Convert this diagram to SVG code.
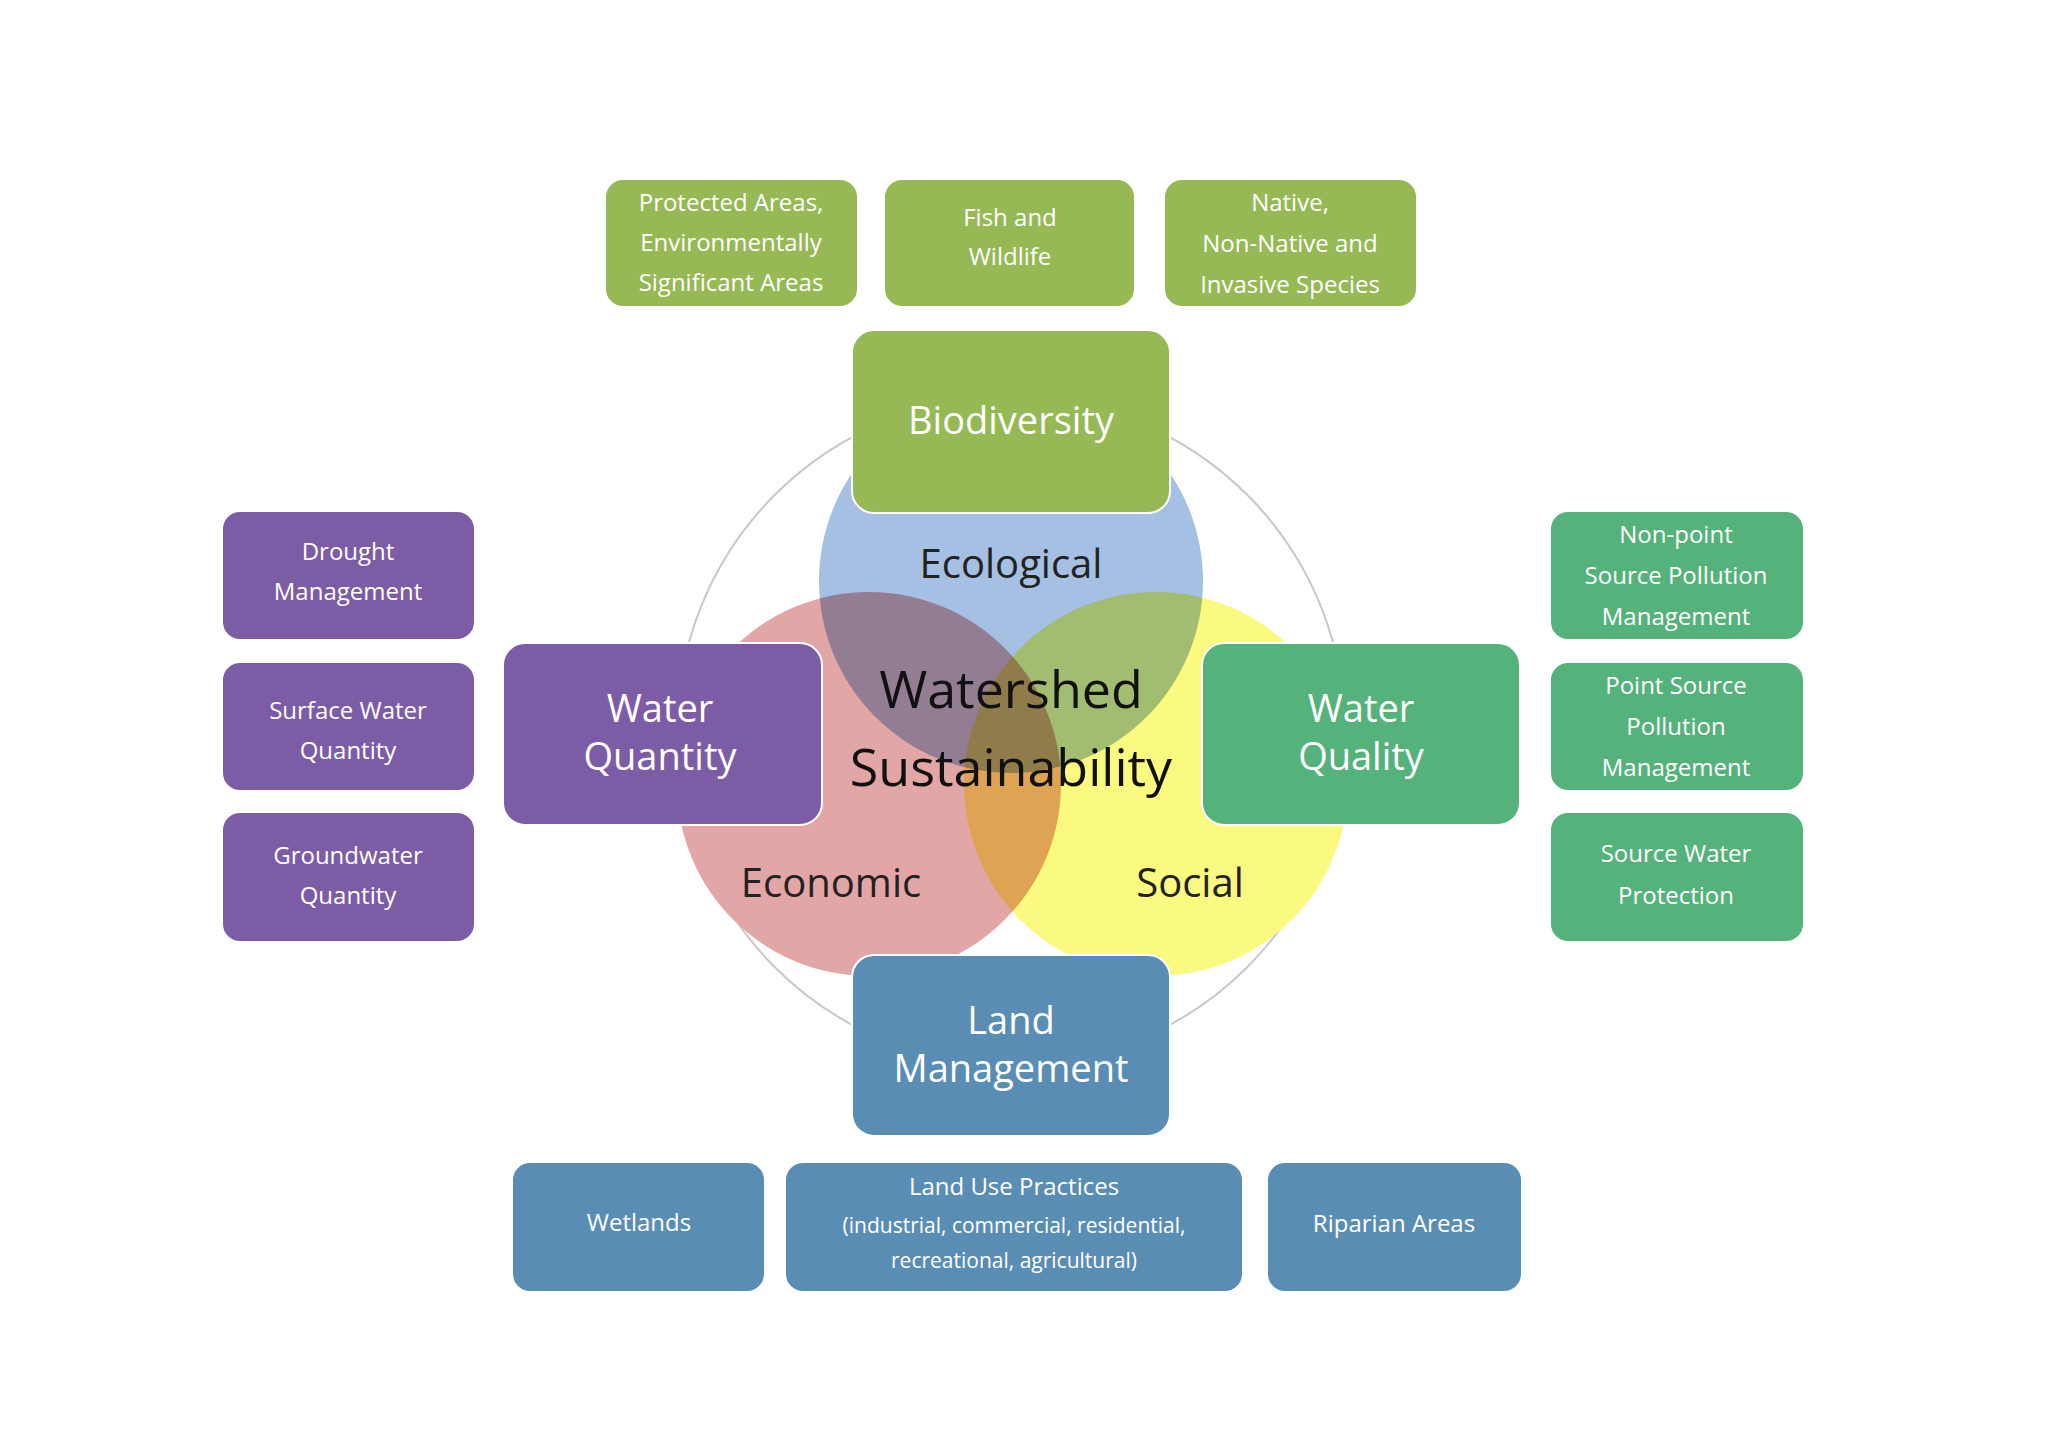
<svg xmlns="http://www.w3.org/2000/svg" width="2048" height="1448" viewBox="0 0 2048 1448">
<style>
text{font-family:"Open Sans","Liberation Sans",sans-serif;text-anchor:middle}
.s{fill:#fff;font-size:24px}
.b{fill:#fff;font-size:38px}
.c{fill:#222;font-size:40px}
.g{fill:#97b955}.p{fill:#7c5ca5}.q{fill:#55b27b}.l{fill:#5a8db4}
rect{stroke:#fff;stroke-width:2}
</style>
<rect width="2048" height="1448" fill="#fff"/>
<g id="venn">
<circle cx="1011" cy="731" r="334" fill="none" stroke="#c8c8c8" stroke-width="2"/>
<g style="isolation:isolate">
<circle cx="1011" cy="581" r="192" fill="#a5c0e2"/>
<circle cx="869" cy="784" r="192" fill="#e3a6a6" style="mix-blend-mode:multiply"/>
<circle cx="1156" cy="784" r="192" fill="#fafa80" style="mix-blend-mode:multiply"/>
</g>
<text class="c" x="1011" y="578">Ecological</text>
<text class="c" x="831" y="897">Economic</text>
<text class="c" x="1190" y="897">Social</text>
<text x="1011" y="708" style="font-size:52px;fill:#111">Watershed</text>
<text x="1011" y="786" style="font-size:52px;fill:#111">Sustainability</text>
</g>
<g id="connectors"></g>
<g id="biodiversity"><rect class="g" x="852" y="330" width="318" height="183" rx="22"/><text class="b" x="1011" y="434">Biodiversity</text></g>
<g id="protected"><rect class="g" x="605" y="179" width="253" height="128" rx="18"/><text class="s" x="731" y="211">Protected Areas,</text><text class="s" x="731" y="251">Environmentally</text><text class="s" x="731" y="291">Significant Areas</text></g>
<g id="fish"><rect class="g" x="884" y="179" width="251" height="128" rx="18"/><text class="s" x="1010" y="226">Fish and</text><text class="s" x="1010" y="265">Wildlife</text></g>
<g id="native"><rect class="g" x="1164" y="179" width="253" height="128" rx="18"/><text class="s" x="1290" y="211">Native,</text><text class="s" x="1290" y="252">Non-Native and</text><text class="s" x="1290" y="293">Invasive Species</text></g>
<g id="waterquantity"><rect class="p" x="503" y="643" width="319" height="182" rx="22"/><text class="b" x="660" y="722">Water</text><text class="b" x="660" y="770">Quantity</text></g>
<g id="drought"><rect class="p" x="222" y="511" width="253" height="129" rx="18"/><text class="s" x="348" y="560">Drought</text><text class="s" x="348" y="600">Management</text></g>
<g id="surface"><rect class="p" x="222" y="662" width="253" height="129" rx="18"/><text class="s" x="348" y="719">Surface Water</text><text class="s" x="348" y="759">Quantity</text></g>
<g id="groundwater"><rect class="p" x="222" y="812" width="253" height="130" rx="18"/><text class="s" x="348" y="864">Groundwater</text><text class="s" x="348" y="904">Quantity</text></g>
<g id="waterquality"><rect class="q" x="1202" y="643" width="318" height="182" rx="22"/><text class="b" x="1361" y="722">Water</text><text class="b" x="1361" y="770">Quality</text></g>
<g id="nonpoint"><rect class="q" x="1550" y="511" width="254" height="129" rx="18"/><text class="s" x="1676" y="543">Non-point</text><text class="s" x="1676" y="584">Source Pollution</text><text class="s" x="1676" y="625">Management</text></g>
<g id="point"><rect class="q" x="1550" y="662" width="254" height="129" rx="18"/><text class="s" x="1676" y="694">Point Source</text><text class="s" x="1676" y="735">Pollution</text><text class="s" x="1676" y="776">Management</text></g>
<g id="sourcewater"><rect class="q" x="1550" y="812" width="254" height="130" rx="18"/><text class="s" x="1676" y="862">Source Water</text><text class="s" x="1676" y="904">Protection</text></g>
<g id="land"><rect class="l" x="852" y="955" width="318" height="181" rx="22"/><text class="b" x="1011" y="1034">Land</text><text class="b" x="1011" y="1082">Management</text></g>
<g id="wetlands"><rect class="l" x="512" y="1162" width="253" height="130" rx="18"/><text class="s" x="639" y="1231">Wetlands</text></g>
<g id="landuse"><rect class="l" x="785" y="1162" width="458" height="130" rx="18"/><text class="s" x="1014" y="1195">Land Use Practices</text><text class="s" x="1014" y="1233" style="font-size:21px">(industrial, commercial, residential,</text><text class="s" x="1014" y="1268" style="font-size:21px">recreational, agricultural)</text></g>
<g id="riparian"><rect class="l" x="1267" y="1162" width="255" height="130" rx="18"/><text class="s" x="1394" y="1232">Riparian Areas</text></g>
</svg>
